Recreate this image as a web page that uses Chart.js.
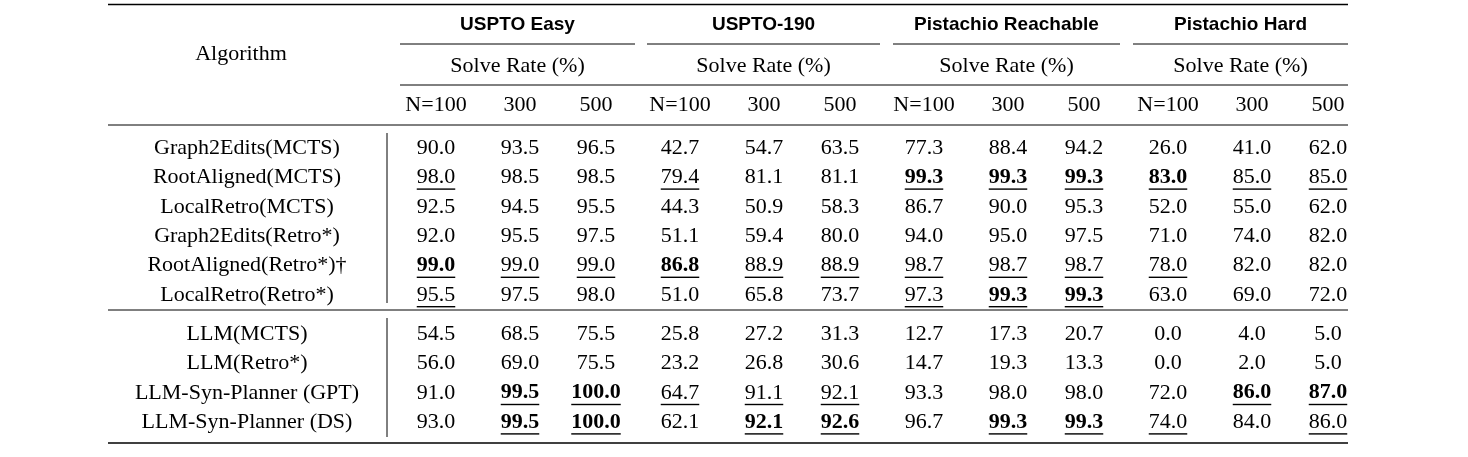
<!DOCTYPE html>
<html><head><meta charset="utf-8">
<script src="https://cdn.jsdelivr.net/npm/chart.js@4"></script>
<style>html,body{margin:0;background:#fff}</style></head>
<body><canvas id="c" width="1468" height="457"></canvas>
<script>
const groups = ["USPTO Easy","USPTO-190","Pistachio Reachable","Pistachio Hard"];
const subHeader = "Solve Rate (%)";
const nLabels = ["N=100","300","500"];
const algorithms = ["Graph2Edits(MCTS)","RootAligned(MCTS)","LocalRetro(MCTS)","Graph2Edits(Retro*)","RootAligned(Retro*)†","LocalRetro(Retro*)",
  "LLM(MCTS)","LLM(Retro*)","LLM-Syn-Planner (GPT)","LLM-Syn-Planner (DS)"];
const values = [
 [90.0,93.5,96.5,42.7,54.7,63.5,77.3,88.4,94.2,26.0,41.0,62.0],
 [98.0,98.5,98.5,79.4,81.1,81.1,99.3,99.3,99.3,83.0,85.0,85.0],
 [92.5,94.5,95.5,44.3,50.9,58.3,86.7,90.0,95.3,52.0,55.0,62.0],
 [92.0,95.5,97.5,51.1,59.4,80.0,94.0,95.0,97.5,71.0,74.0,82.0],
 [99.0,99.0,99.0,86.8,88.9,88.9,98.7,98.7,98.7,78.0,82.0,82.0],
 [95.5,97.5,98.0,51.0,65.8,73.7,97.3,99.3,99.3,63.0,69.0,72.0],
 [54.5,68.5,75.5,25.8,27.2,31.3,12.7,17.3,20.7,0.0,4.0,5.0],
 [56.0,69.0,75.5,23.2,26.8,30.6,14.7,19.3,13.3,0.0,2.0,5.0],
 [91.0,99.5,100.0,64.7,91.1,92.1,93.3,98.0,98.0,72.0,86.0,87.0],
 [93.0,99.5,100.0,62.1,92.1,92.6,96.7,99.3,99.3,74.0,84.0,86.0]];
// style: b = bold, u = underline
const styles = [
 ["","","","","","","","","","","",""],
 ["u","","","u","","","bu","bu","bu","bu","u","u"],
 ["","","","","","","","","","","",""],
 ["","","","","","","","","","","",""],
 ["bu","u","u","bu","u","u","u","u","u","u","",""],
 ["u","","","","","","u","bu","bu","","",""],
 ["","","","","","","","","","","",""],
 ["","","","","","","","","","","",""],
 ["","bu","bu","u","u","u","","","","","bu","bu"],
 ["","bu","bu","","bu","bu","","bu","bu","u","","u"]];

// layout (pixel units of the linear scales)
const GROUP_STEP=244, SUB_OFF=[0,84,160];
const colX = c => GROUP_STEP*Math.floor(c/3) + SUB_OFF[c%3];
const ROW_H=29.4, LOWER_START=(334-148)/29.4;
const rowY = r => r < 6 ? r : LOWER_START + (r-6);
const pts = [];
values.forEach((row,r)=>row.forEach((v,c)=>pts.push({x:colX(c),y:rowY(r),v,s:styles[r][c]})));
const serif = "'Liberation Serif','DejaVu Serif',serif";
const sans = "'Liberation Sans',Arial,sans-serif";
const FS = "22px ";

function txt(ctx,t,x,y,font,style){
  ctx.font=(style&&style.includes('b')?'bold ':'')+font;
  ctx.fillText(t,x,y);
  if(style&&style.includes('u')){
    const w=ctx.measureText(t).width;
    ctx.fillRect(x-w/2,y+11,w,1.4);
  }
}
const rules=[[400,635],[647,880],[893,1120],[1133,1348]];
const tablePlugin={id:'tbl',afterDatasetsDraw(chart){
  const ctx=chart.ctx,xs=chart.scales.x,ys=chart.scales.y;
  ctx.save();ctx.fillStyle='#000';ctx.strokeStyle='#000';
  ctx.textAlign='center';ctx.textBaseline='middle';
  const X=i=>xs.getPixelForValue(colX(i));
  const hl=(x1,x2,y,w)=>{ctx.lineWidth=w;ctx.beginPath();ctx.moveTo(x1,y);ctx.lineTo(x2,y);ctx.stroke();};
  hl(108,1348,4.5,1.6);
  groups.forEach((g,k)=>{
    const cx=(rules[k][0]+rules[k][1])/2;
    txt(ctx,g,cx,25,"bold 19px "+sans);
    txt(ctx,subHeader,cx,66,FS+serif);
    hl(rules[k][0],rules[k][1],44,1);
    nLabels.forEach((n,j)=>txt(ctx,n,X(3*k+j),105,FS+serif));
  });
  hl(400,1348,85,1);
  txt(ctx,"Algorithm",241,54,FS+serif);
  hl(108,1348,125,1);hl(108,1348,310,1);hl(108,1348,443,1.6);
  ctx.lineWidth=1;ctx.beginPath();ctx.moveTo(387,133);ctx.lineTo(387,303);ctx.moveTo(387,318);ctx.lineTo(387,437);ctx.stroke();
  algorithms.forEach((a,r)=>txt(ctx,a,247,ys.getPixelForValue(rowY(r)),FS+serif));
  pts.forEach(p=>txt(ctx,p.v.toFixed(1),xs.getPixelForValue(p.x),ys.getPixelForValue(p.y),FS+serif,p.s));
  ctx.restore();
}};
new Chart(document.getElementById('c'),{
  type:'scatter',
  data:{datasets:[{data:pts,pointRadius:0}]},
  options:{responsive:false,animation:false,devicePixelRatio:1,
    layout:{padding:0},
    plugins:{legend:{display:false},tooltip:{enabled:false}},
    scales:{x:{type:'linear',display:false,min:-436,max:1468-436},
            y:{type:'linear',display:false,reverse:true,min:-148/ROW_H,max:(457-148)/ROW_H}}},
  plugins:[tablePlugin]
});
</script></body></html>
